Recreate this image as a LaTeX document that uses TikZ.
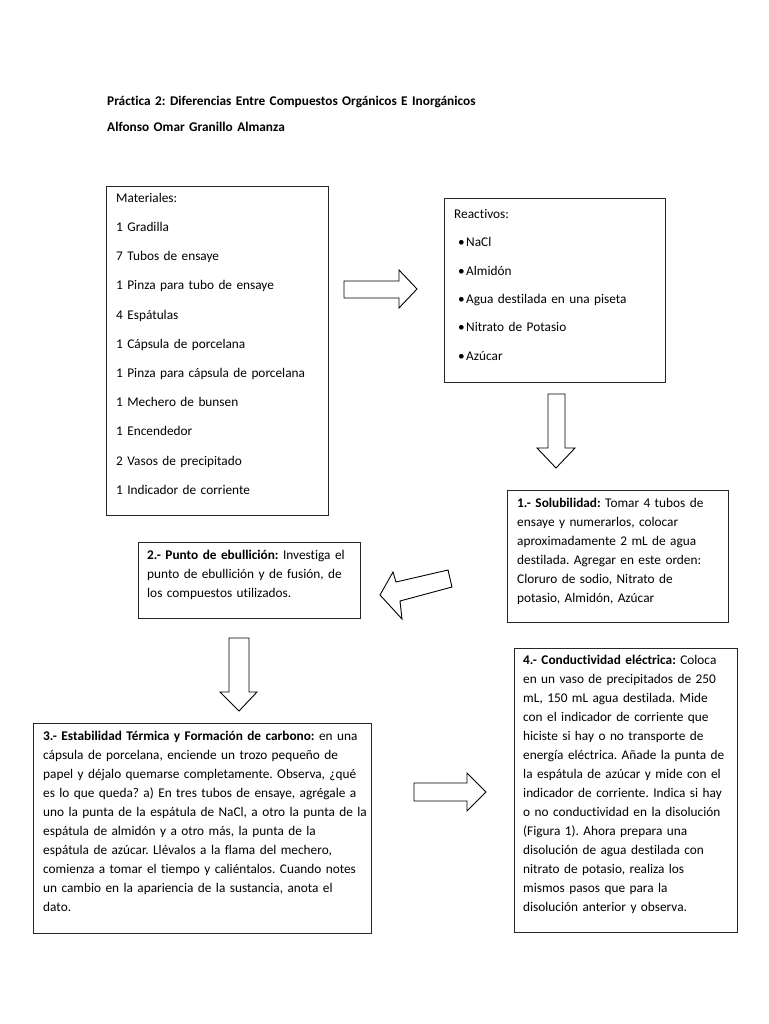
\documentclass[tikz,border=0pt]{standalone}
\usepackage{fontspec}
\setmainfont{Carlito}[Ligatures=NoCommon]
\frenchspacing
\begin{document}
\begin{tikzpicture}[x=1pt,y=-1pt,
  box/.style={draw=black!85, line width=1.1pt, inner sep=0pt, anchor=north west},
  txt/.style={anchor=north west, inner sep=0pt, align=left, text width=#1,
    font=\fontsize{13.3}{19}\selectfont},
  txt/.default=330pt,
  barrow/.style={draw=black, line width=0.9pt, fill=white, line join=miter}]
\useasboundingbox[fill=white] (0,0) rectangle (768,1024);
\newcommand{\fl}{\rule{0pt}{11pt}}
\newcommand{\bul}{\makebox[12pt][l]{\hspace{4pt}•}}

% title
\node[txt=420pt] (title) at (107,94) {\fl\textbf{Práctica 2: Diferencias Entre Compuestos Orgánicos E Inorgánicos}};
\node[txt] (author) at (107,120) {\fl\textbf{Alfonso Omar Granillo Almanza}};

% Materiales
\node[box, minimum width=222pt, minimum height=329pt] (mat) at (106,186) {};
\node[txt=210pt, font=\fontsize{13.3}{29.2}\selectfont] (mattxt) at (116,191) {\fl Materiales:\\
1 Gradilla\\
7 Tubos de ensaye\\
1 Pinza para tubo de ensaye\\
4 Espátulas\\
1 Cápsula de porcelana\\
1 Pinza para cápsula de porcelana\\
1 Mechero de bunsen\\
1 Encendedor\\
2 Vasos de precipitado\\
1 Indicador de corriente};

% Reactivos
\node[box, minimum width=221pt, minimum height=184pt] (rea) at (444,198) {};
\node[txt=205pt, font=\fontsize{13.3}{28.4}\selectfont] (reatxt) at (454,207) {\fl Reactivos:\\
\bul NaCl\\
\bul Almidón\\
\bul Agua destilada en una piseta\\
\bul Nitrato de Potasio\\
\bul Azúcar};

% 1.- Solubilidad
\node[box, minimum width=221pt, minimum height=132pt] (sol) at (507,490) {};
\node[txt=215pt] (soltxt) at (517,496) {\fl\textbf{1.- Solubilidad:} Tomar 4 tubos de\\
ensaye y numerarlos, colocar\\
aproximadamente 2 mL de agua\\
destilada. Agregar en este orden:\\
Cloruro de sodio, Nitrato de\\
potasio, Almidón, Azúcar};

% 2.- Punto de ebullicion
\node[box, minimum width=222pt, minimum height=76pt] (pun) at (138,542) {};
\node[txt=215pt] (puntxt) at (147,548) {\fl\textbf{2.- Punto de ebullición:} Investiga el\\
punto de ebullición y de fusión, de\\
los compuestos utilizados.};

% 3.- Estabilidad
\node[box, minimum width=338pt, minimum height=210pt] (est) at (33,723) {};
\node[txt=345pt] (esttxt) at (43,729) {\fl\textbf{3.- Estabilidad Térmica y Formación de carbono:} en una\\
cápsula de porcelana, enciende un trozo pequeño de\\
papel y déjalo quemarse completamente. Observa, ¿qué\\
es lo que queda? a) En tres tubos de ensaye, agrégale a\\
uno la punta de la espátula de NaCl, a otro la punta de la\\
espátula de almidón y a otro más, la punta de la\\
espátula de azúcar. Llévalos a la flama del mechero,\\
comienza a tomar el tiempo y caliéntalos. Cuando notes\\
un cambio en la apariencia de la sustancia, anota el\\
dato.};

% 4.- Conductividad
\node[box, minimum width=223pt, minimum height=284pt] (con) at (514,648) {};
\node[txt=230pt] (contxt) at (523,653) {\fl\textbf{4.- Conductividad eléctrica:} Coloca\\
en un vaso de precipitados de 250\\
mL, 150 mL agua destilada. Mide\\
con el indicador de corriente que\\
hiciste si hay o no transporte de\\
energía eléctrica. Añade la punta de\\
la espátula de azúcar y mide con el\\
indicador de corriente. Indica si hay\\
o no conductividad en la disolución\\
(Figura 1). Ahora prepara una\\
disolución de agua destilada con\\
nitrato de potasio, realiza los\\
mismos pasos que para la\\
disolución anterior y observa.};

% block arrows
\draw[barrow] (344,281) -- (399,281) -- (399,270) -- (417,289) -- (399,308) -- (399,298) -- (344,298) -- cycle;
\draw[barrow] (548,394) -- (565,394) -- (565,448) -- (575,448) -- (556,468) -- (537,448) -- (548,448) -- cycle;
\draw[barrow] (380,595) -- (393,572) -- (396,582) -- (448,570) -- (452,587) -- (400,601) -- (402,619) -- cycle;
\draw[barrow] (229,638) -- (249,638) -- (249,692) -- (257,692) -- (239,711) -- (220,692) -- (229,692) -- cycle;
\draw[barrow] (414,783) -- (467,783) -- (467,773) -- (486,792) -- (467,811) -- (467,801) -- (414,801) -- cycle;
\end{tikzpicture}
\end{document}
